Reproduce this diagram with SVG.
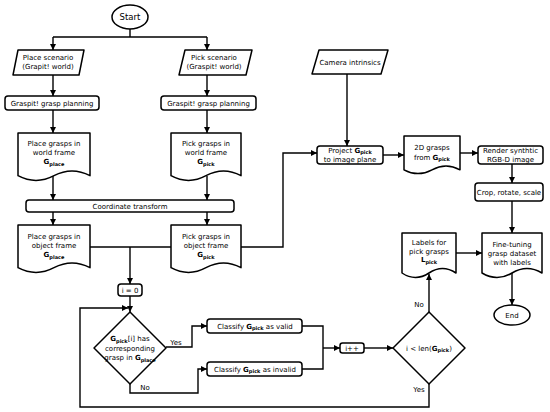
<svg xmlns="http://www.w3.org/2000/svg" width="550" height="412" viewBox="0 0 550 412">
<defs>
<marker id="ah" markerUnits="userSpaceOnUse" markerWidth="6" markerHeight="6" refX="6" refY="3" orient="auto">
<path d="M0,0 L6,3 L0,6 Z" fill="#000"/>
</marker>
<style>
.n{fill:#fff;stroke:#000;stroke-width:1.5;stroke-linejoin:round}
.c{fill:none;stroke:#000;stroke-width:1.4}
.a{marker-end:url(#ah)}
text{font-family:"DejaVu Sans","Liberation Sans",sans-serif;font-size:7px;fill:#000;text-anchor:middle}
.b{font-weight:bold}
.s{font-weight:bold;font-size:5px}
</style>
</defs>
<rect width="550" height="412" fill="#fff"/>
<g id="connectors">
<path class="c" d="M130,29 V37 M53,37 H207"/>
<path class="c a" d="M53,37 V50"/>
<path class="c a" d="M207,37 V50"/>
<path class="c a" d="M53,75 V96"/>
<path class="c a" d="M207,75 V96"/>
<path class="c a" d="M53,110 V133"/>
<path class="c a" d="M207,110 V133"/>
<path class="c a" d="M53,176 V200"/>
<path class="c a" d="M207,176 V200"/>
<path class="c a" d="M53,212 V225"/>
<path class="c a" d="M207,212 V225"/>
<path class="c" d="M90,247 H171"/>
<path class="c a" d="M130,247 V284"/>
<path class="c a" d="M241,247 H283 V153 H317"/>
<path class="c a" d="M130,296 V312"/>
<path class="c a" d="M429,384 V407 H80 V308 H128"/>
<path class="c a" d="M166,347 H192 V326 H207"/>
<path class="c a" d="M130,384 V393 H198 V369 H207"/>
<path class="c" d="M302,326 H323 V369 H302"/>
<path class="c a" d="M323,348 H340"/>
<path class="c a" d="M364,348 H393"/>
<path class="c a" d="M429,312 V274"/>
<path class="c a" d="M456,253 H482"/>
<path class="c a" d="M512,273 V305"/>
<path class="c a" d="M347,74 V146"/>
<path class="c a" d="M383,155 H404"/>
<path class="c a" d="M460,153 H478"/>
<path class="c a" d="M512,164 V183"/>
<path class="c a" d="M512,201 V233"/>
<text x="176" y="345">Yes</text>
<text x="145" y="390">No</text>
<text x="419" y="307">No</text>
<text x="419" y="392">Yes</text>
</g>
<g id="start">
<ellipse class="n" cx="130" cy="17" rx="18" ry="12"/>
<text x="130" y="20" style="font-size:8.5px">Start</text>
</g>
<g id="place-scenario">
<path class="n" d="M18,50 H84 L79,75 H13 Z"/>
<text x="48" y="60">Place scenario</text>
<text x="48" y="69">(Grapit! world)</text>
</g>
<g id="pick-scenario">
<path class="n" d="M185,50 H252 L246,75 H179 Z"/>
<text x="214" y="60">Pick scenario</text>
<text x="214" y="69">(Graspit! world)</text>
</g>
<g id="place-planning">
<rect class="n" x="5" y="96" width="94" height="14" rx="3"/>
<text x="52" y="105.5">Graspit! grasp planning</text>
</g>
<g id="pick-planning">
<rect class="n" x="161" y="96" width="95" height="14" rx="3"/>
<text x="208.5" y="105.5">Graspit! grasp planning</text>
</g>
<g id="place-world">
<path class="n" d="M18,133 H90 V175.7 Q72,166.2 54,175.7 Q36,185.2 18,175.7 Z"/>
<text x="54" y="146">Place grasps in</text>
<text x="54" y="155">world frame</text>
<text x="54" y="164"><tspan class="b">G</tspan><tspan class="s" dy="1.5">place</tspan></text>
</g>
<g id="pick-world">
<path class="n" d="M171,133 H241 V175.7 Q223.5,166.2 206,175.7 Q188.5,185.2 171,175.7 Z"/>
<text x="206" y="146">Pick grasps in</text>
<text x="206" y="155">world frame</text>
<text x="206" y="164"><tspan class="b">G</tspan><tspan class="s" dy="1.5">pick</tspan></text>
</g>
<g id="coord-transform">
<rect class="n" x="26" y="200" width="208" height="12" rx="3"/>
<text x="130" y="208.5">Coordinate transform</text>
</g>
<g id="place-object">
<path class="n" d="M18,225 H90 V267.7 Q72,258.2 54,267.7 Q36,277.2 18,267.7 Z"/>
<text x="54" y="239">Place grasps in</text>
<text x="54" y="248">object frame</text>
<text x="54" y="257"><tspan class="b">G</tspan><tspan class="s" dy="1.5">place</tspan></text>
</g>
<g id="pick-object">
<path class="n" d="M171,225 H241 V267.7 Q223.5,258.2 206,267.7 Q188.5,277.2 171,267.7 Z"/>
<text x="206" y="239">Pick grasps in</text>
<text x="206" y="248">object frame</text>
<text x="206" y="257"><tspan class="b">G</tspan><tspan class="s" dy="1.5">pick</tspan></text>
</g>
<g id="init">
<rect class="n" x="118" y="284" width="24" height="12" rx="3"/>
<text x="130" y="292.5">i = 0</text>
</g>
<g id="check">
<path class="n" d="M130,312 L166,348 L130,384 L94,348 Z"/>
<text x="130" y="341"><tspan class="b">G</tspan><tspan class="s" dy="1.5">pick</tspan><tspan dy="-1.5">[i] has</tspan></text>
<text x="130" y="350.5">corresponding</text>
<text x="130" y="360">grasp in <tspan class="b">G</tspan><tspan class="s" dy="1.5">place</tspan></text>
</g>
<g id="valid">
<rect class="n" x="207" y="319" width="95" height="14" rx="3"/>
<text x="255" y="328.5">Classify <tspan class="b">G</tspan><tspan class="s" dy="1.5">pick</tspan><tspan dy="-1.5"> as valid</tspan></text>
</g>
<g id="invalid">
<rect class="n" x="207" y="362" width="95" height="14" rx="3"/>
<text x="255" y="371.5">Classify <tspan class="b">G</tspan><tspan class="s" dy="1.5">pick</tspan><tspan dy="-1.5"> as invalid</tspan></text>
</g>
<g id="incr">
<rect class="n" x="340" y="343" width="24" height="10" rx="2.5"/>
<text x="352" y="350.5">i++</text>
</g>
<g id="loop-check">
<path class="n" d="M429,312 L465,348 L429,384 L393,348 Z"/>
<text x="429" y="350.5">i &lt; len(<tspan class="b">G</tspan><tspan class="s" dy="1.5">pick</tspan><tspan dy="-1.5">)</tspan></text>
</g>
<g id="camera">
<path class="n" d="M319,50 H388 L381,74 H312 Z"/>
<text x="350" y="65">Camera intrinsics</text>
</g>
<g id="project">
<rect class="n" x="317" y="146" width="66" height="18" rx="3"/>
<text x="350" y="152.5">Project <tspan class="b">G</tspan><tspan class="s" dy="1.5">pick</tspan></text>
<text x="350" y="161.5">to image plane</text>
</g>
<g id="grasps2d">
<path class="n" d="M404,136 H460 V169.8 Q446,162.2 432,169.8 Q418,177.4 404,169.8 Z"/>
<text x="432" y="150">2D grasps</text>
<text x="432" y="159.5">from <tspan class="b">G</tspan><tspan class="s" dy="1.5">pick</tspan></text>
</g>
<g id="render">
<rect class="n" x="478" y="146" width="65" height="18" rx="3"/>
<text x="510.5" y="152.5">Render synthtic</text>
<text x="510.5" y="161.5">RGB-D image</text>
</g>
<g id="crop">
<rect class="n" x="475" y="183" width="68" height="18" rx="3"/>
<text x="509" y="194.5">Crop, rotate, scale</text>
</g>
<g id="labels">
<path class="n" d="M402,233 H456 V273 Q442.5,264.1 429,273 Q415.5,282 402,273 Z"/>
<text x="429" y="244.5">Labels for</text>
<text x="429" y="253.5">pick grasps</text>
<text x="429" y="262"><tspan class="b">L</tspan><tspan class="s" dy="1.5">pick</tspan></text>
</g>
<g id="dataset">
<path class="n" d="M482,233 H542 V273 Q527,264.1 512,273 Q497,282 482,273 Z"/>
<text x="512" y="246.5">Fine-tuning</text>
<text x="512" y="255.5">grasp dataset</text>
<text x="512" y="264.5">with labels</text>
</g>
<g id="end">
<ellipse class="n" cx="512" cy="315" rx="18" ry="10"/>
<text x="512" y="318">End</text>
</g>
</svg>
